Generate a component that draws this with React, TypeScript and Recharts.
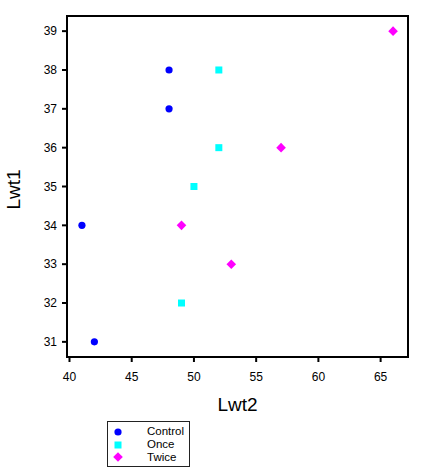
import React from 'react'
import { ScatterChart, Scatter, XAxis, YAxis, ReferenceArea, Legend, Label } from 'recharts'

const xTicks = [40, 45, 50, 55, 60, 65]
const yTicks = [31, 32, 33, 34, 35, 36, 37, 38, 39]
const xDomain = [39.8, 67.2]
const yDomain = [30.61, 39.39]

const control = [
  { x: 48, y: 38 },
  { x: 48, y: 37 },
  { x: 41, y: 34 },
  { x: 42, y: 31 },
]
const once = [
  { x: 52, y: 38 },
  { x: 52, y: 36 },
  { x: 50, y: 35 },
  { x: 49, y: 32 },
]
const twice = [
  { x: 66, y: 39 },
  { x: 57, y: 36 },
  { x: 49, y: 34 },
  { x: 53, y: 33 },
]

const FONT = '"Liberation Sans", Arial, sans-serif'

const Circle = ({ cx, cy }: any) => <circle cx={cx} cy={cy} r={3.6} fill="#0000ff" />
const Square = ({ cx, cy }: any) => <rect x={cx - 3.5} y={cy - 3.5} width={7} height={7} fill="#00ffff" />
const Diamond = ({ cx, cy }: any) => (
  <polygon
    points={`${cx},${cy - 4.8} ${cx + 4.8},${cy} ${cx},${cy + 4.8} ${cx - 4.8},${cy}`}
    fill="#ff00ff"
  />
)

const series = [
  { name: 'Control', data: control, shape: Circle },
  { name: 'Once', data: once, shape: Square },
  { name: 'Twice', data: twice, shape: Diamond },
]

// legend box sits under the x title, like the original
const LegendBox = () => (
  <div
    style={{
      width: 81,
      height: 44,
      border: '1px solid #222',
      background: '#fff',
      fontFamily: FONT,
      fontSize: 11.5,
      color: '#000',
      position: 'relative',
    }}
  >
    {series.map((s, i) => {
      const Shape = s.shape
      const cy = 9.6 + i * 12.9
      return (
        <div key={s.name}>
          <svg width={14} height={14} style={{ position: 'absolute', left: 3, top: cy - 7 }}>
            <Shape cx={7} cy={7} />
          </svg>
          <div
            style={{
              position: 'absolute',
              left: 39,
              top: cy - 6.4,
              lineHeight: '12.8px',
              height: 12.8,
              whiteSpace: 'nowrap',
            }}
          >
            {s.name}
          </div>
        </div>
      )
    })}
  </div>
)

const YTitle = (props: any) => {
  const vb = props.viewBox
  const cx = 13
  const cy = vb.y + vb.height / 2 + 3
  return (
    <text
      x={cx}
      y={cy}
      transform={`rotate(-90 ${cx} ${cy})`}
      textAnchor="middle"
      dominantBaseline="central"
      fontFamily={FONT}
      fontSize={19}
      fill="#000"
    >
      Lwt1
    </text>
  )
}

const XTitle = (props: any) => {
  const vb = props.viewBox
  return (
    <text x={vb.x + vb.width / 2} y={vb.y + 54} textAnchor="middle" fontFamily={FONT} fontSize={19} fill="#000">
      Lwt2
    </text>
  )
}

export default function App() {
  return (
    <div style={{ position: 'absolute', left: 0, top: 0, width: 425, height: 469, background: '#fff' }}>
      <ScatterChart width={425} height={469} margin={{ top: 16, right: 17, bottom: 3, left: 0 }}>
        <XAxis
          type="number"
          dataKey="x"
          domain={xDomain}
          ticks={xTicks}
          allowDataOverflow
          height={63}
          axisLine={{ stroke: '#000', strokeWidth: 2 }}
          tickLine={{ stroke: '#000', strokeWidth: 2 }}
          tickSize={5}
          tickMargin={10}
          tick={{ fill: '#000', fontSize: 12, fontFamily: FONT }}
        >
          <Label content={XTitle} />
        </XAxis>
        <YAxis
          type="number"
          dataKey="y"
          domain={yDomain}
          ticks={yTicks}
          allowDataOverflow
          width={67}
          axisLine={{ stroke: '#000', strokeWidth: 2 }}
          tickLine={{ stroke: '#000', strokeWidth: 2 }}
          tickSize={5}
          tickMargin={5}
          tick={{ fill: '#000', fontSize: 12, fontFamily: FONT }}
        >
          <Label content={YTitle} />
        </YAxis>
        <ReferenceArea
          x1={xDomain[0]}
          x2={xDomain[1]}
          y1={yDomain[0]}
          y2={yDomain[1]}
          fill="none"
          stroke="#000"
          strokeWidth={2}
          fillOpacity={0}
        />
        {series.map((s) => (
          <Scatter key={s.name} name={s.name} data={s.data} shape={s.shape} isAnimationActive={false} />
        ))}
        <Legend
          verticalAlign="bottom"
          align="left"
          content={() => <LegendBox />}
          wrapperStyle={{ left: 107, bottom: 2, width: 'auto' }}
        />
      </ScatterChart>
    </div>
  )
}
